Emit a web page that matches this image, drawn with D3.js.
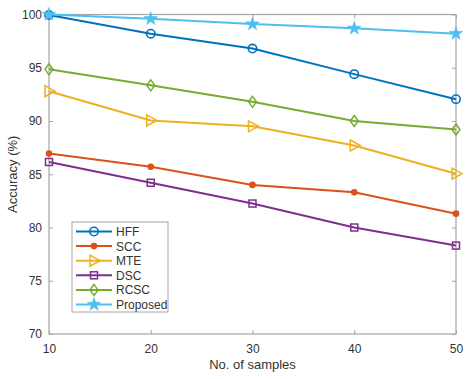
<!DOCTYPE html>
<html>
<head>
<meta charset="utf-8">
<script src="https://cdn.jsdelivr.net/npm/d3@7"></script>
<style>
  body { margin: 0; background: #fff; }
  svg { font-family: "Liberation Sans", Arial, sans-serif; }
</style>
</head>
<body>
<div id="chart"></div>
<script>
// data
const samples = [10, 20, 30, 40, 50];
const names = ['HFF', 'SCC', 'MTE', 'DSC', 'RCSC', 'Proposed'];
const hff = [99.95, 98.2, 96.8, 94.4, 92.05];
const scc = [86.95, 85.7, 84.0, 83.3, 81.3];
const mte = [92.8, 90.05, 89.5, 87.7, 85.05];
const dsc = [86.15, 84.2, 82.25, 80.0, 78.3];
const rcsc = [94.85, 93.35, 91.8, 90.0, 89.2];
const proposed = [100, 99.6, 99.1, 98.7, 98.2];
const xTicks = [10, 20, 30, 40, 50];
const yTicks = [70, 75, 80, 85, 90, 95, 100];

const colors = ['#0072BD', '#D95319', '#EDB120', '#7E2F8E', '#77AC30', '#4DBEEE'];
const symbols = ['circle', 'dot', 'triangle', 'square', 'diamond', 'star'];
const allSeries = [hff, scc, mte, dsc, rcsc, proposed];

const width = 474, height = 379;
const margin = {top: 14.5, right: 18, bottom: 45, left: 49};

const svg = d3.select('#chart').append('svg')
  .attr('width', width)
  .attr('height', height);

const x = d3.scaleLinear().domain([10, 50]).range([margin.left, width - margin.right]);
const y = d3.scaleLinear().domain([70, 100]).range([height - margin.bottom, margin.top]);

const axisColor = '#a6a6a6';
const textColor = '#333';

// box
svg.append('rect')
  .attr('x', x(10)).attr('y', y(100))
  .attr('width', x(50) - x(10)).attr('height', y(70) - y(100))
  .attr('fill', 'none').attr('stroke', axisColor).attr('stroke-width', 1.2);

function styleAxis(g) {
  g.select('.domain').remove();
  g.selectAll('.tick line').attr('stroke', axisColor).attr('stroke-width', 1);
  g.selectAll('.tick text').attr('fill', textColor).attr('font-size', 12);
}

svg.append('g')
  .attr('transform', `translate(0,${y(70)})`)
  .call(d3.axisBottom(x).tickValues(xTicks).tickSize(-4).tickPadding(10))
  .call(styleAxis);
svg.append('g')
  .attr('transform', `translate(0,${y(100)})`)
  .call(d3.axisTop(x).tickValues(xTicks).tickSize(-4).tickFormat(''))
  .call(styleAxis);
svg.append('g')
  .attr('transform', `translate(${x(10)},0)`)
  .call(d3.axisLeft(y).tickValues(yTicks).tickSize(-4).tickPadding(7))
  .call(styleAxis);
svg.append('g')
  .attr('transform', `translate(${x(50)},0)`)
  .call(d3.axisRight(y).tickValues(yTicks).tickSize(-4).tickFormat(''))
  .call(styleAxis);

// labels
svg.append('text')
  .attr('x', (x(10) + x(50)) / 2).attr('y', 369)
  .attr('text-anchor', 'middle').attr('font-size', 13).attr('fill', textColor)
  .text('No. of samples');
svg.append('text')
  .attr('transform', `translate(17,${(y(70) + y(100)) / 2}) rotate(-90)`)
  .attr('text-anchor', 'middle').attr('font-size', 13).attr('fill', textColor)
  .text('Accuracy (%)');

function drawMarker(g, kind, color) {
  if (kind === 'circle') {
    g.append('circle').attr('r', 4.2).attr('fill', 'none').attr('stroke', color).attr('stroke-width', 1.6);
  } else if (kind === 'dot') {
    g.append('circle').attr('r', 3.3).attr('fill', color);
  } else if (kind === 'triangle') {
    g.append('path').attr('d', 'M-4,-5.5L6,0L-4,5.5Z').attr('fill', 'none').attr('stroke', color).attr('stroke-width', 1.5);
  } else if (kind === 'square') {
    g.append('rect').attr('x', -3.5).attr('y', -3.5).attr('width', 7).attr('height', 7)
      .attr('fill', 'none').attr('stroke', color).attr('stroke-width', 1.5);
  } else if (kind === 'diamond') {
    g.append('path').attr('d', 'M0,-5.5L4,0L0,5.5L-4,0Z').attr('fill', 'none').attr('stroke', color).attr('stroke-width', 1.5);
  } else if (kind === 'star') {
    g.append('path').attr('d', d3.symbol(d3.symbolStar, 55)()).attr('fill', color).attr('stroke', color).attr('stroke-width', 0.6);
  }
}

const line = d3.line().x((d, i) => x(samples[i])).y(d => y(d));

allSeries.forEach((vals, k) => {
  svg.append('path')
    .datum(vals)
    .attr('d', line)
    .attr('fill', 'none')
    .attr('stroke', colors[k])
    .attr('stroke-width', 2);
  vals.forEach((v, i) => {
    const g = svg.append('g').attr('transform', `translate(${x(samples[i])},${y(v)})`);
    drawMarker(g, symbols[k], colors[k]);
  });
});

// legend
const lg = svg.append('g').attr('transform', 'translate(72,222)');
lg.append('rect')
  .attr('width', 96).attr('height', 90)
  .attr('fill', '#fff').attr('stroke', axisColor).attr('stroke-width', 1);
names.forEach((n, k) => {
  const row = lg.append('g').attr('transform', `translate(0,${9.5 + k * 14.6})`);
  row.append('line').attr('x1', 4).attr('x2', 40).attr('stroke', colors[k]).attr('stroke-width', 2);
  drawMarker(row.append('g').attr('transform', 'translate(22,0)'), symbols[k], colors[k]);
  row.append('text').attr('x', 44).attr('y', 4.5)
    .attr('font-size', 12).attr('fill', textColor).text(n);
});
</script>
</body>
</html>
